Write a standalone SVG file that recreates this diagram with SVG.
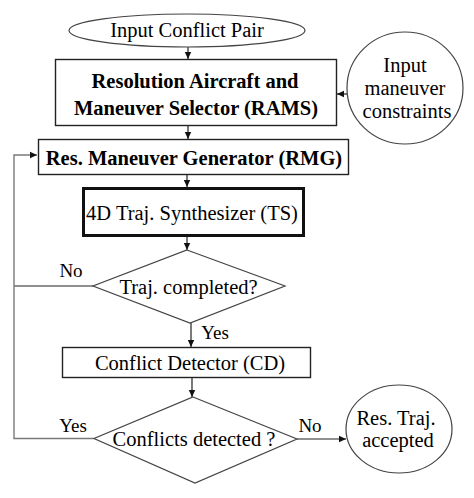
<svg xmlns="http://www.w3.org/2000/svg" width="474" height="498" viewBox="0 0 474 498">
<style>
text{font-family:'Liberation Serif','Times New Roman',serif;font-size:20.5px;fill:#000;text-anchor:middle}
.b{font-weight:bold}
.lbl{font-size:19px}
.box{fill:#fff;stroke:#222;stroke-width:1.4}
.thick{fill:#fff;stroke:#111;stroke-width:3}
.shape{fill:#fff;stroke:#444;stroke-width:1.2}
.ln{fill:none;stroke:#222;stroke-width:1.2}
.fb{fill:none;stroke:#7a7a7a;stroke-width:1.4}
</style>
<defs>
<marker id="ah" markerUnits="userSpaceOnUse" markerWidth="8" markerHeight="8" refX="7" refY="4" orient="auto">
<path d="M0,0.8 L7,4 L0,7.2 Z" fill="#111"/>
</marker>
</defs>
<rect width="474" height="498" fill="#fff"/>
<g id="connectors">
<line class="ln" x1="188" y1="47" x2="188" y2="59" marker-end="url(#ah)"/>
<line class="ln" x1="347" y1="94" x2="337" y2="94" marker-end="url(#ah)"/>
<line class="ln" x1="188" y1="126" x2="188" y2="139" marker-end="url(#ah)"/>
<line class="ln" x1="187" y1="175" x2="187" y2="187" marker-end="url(#ah)"/>
<line class="ln" x1="187" y1="237" x2="187" y2="250" marker-end="url(#ah)"/>
<line class="ln" x1="191" y1="323" x2="191" y2="347" marker-end="url(#ah)"/>
<line class="ln" x1="192" y1="378" x2="192" y2="397" marker-end="url(#ah)"/>
<line class="ln" x1="297" y1="439" x2="346" y2="439" marker-end="url(#ah)"/>
<line class="ln" x1="93" y1="286" x2="14" y2="286"/>
<polyline class="fb" points="94,438.5 14,438.5 14,155 37,155" marker-end="url(#ah)"/>
<text class="lbl" x="71" y="277">No</text>
<text class="lbl" x="215" y="339">Yes</text>
<text class="lbl" x="73" y="432">Yes</text>
<text class="lbl" x="310" y="432">No</text>
</g>
<g id="input-conflict-pair">
<ellipse class="shape" cx="187" cy="30.5" rx="118" ry="16.5"/>
<text x="187" y="37">Input Conflict Pair</text>
</g>
<g id="rams">
<rect class="box" x="55.5" y="59.5" width="281" height="66"/>
<text class="b" x="195" y="88">Resolution Aircraft and</text>
<text class="b" x="196" y="115">Maneuver Selector (RAMS)</text>
</g>
<g id="input-maneuver-constraints">
<ellipse class="shape" cx="405" cy="88" rx="58" ry="56"/>
<text x="405" y="72">Input</text>
<text x="405" y="95">maneuver</text>
<text x="407" y="118">constraints</text>
</g>
<g id="rmg">
<rect class="box" x="38.5" y="139.5" width="310" height="35"/>
<text class="b" x="194" y="165">Res. Maneuver Generator (RMG)</text>
</g>
<g id="ts">
<rect class="thick" x="83.5" y="188.5" width="220" height="47"/>
<text x="192" y="220">4D Traj. Synthesizer (TS)</text>
</g>
<g id="traj-completed">
<polygon class="shape" points="187,250 285,286 190,323 93,286"/>
<text x="188.5" y="294">Traj. completed?</text>
</g>
<g id="cd">
<rect class="box" x="62.5" y="347.5" width="248" height="30"/>
<text x="190" y="370">Conflict Detector (CD)</text>
</g>
<g id="conflicts-detected">
<polygon class="shape" points="193,397 297,439 195,483 94,438.5"/>
<text x="194" y="446">Conflicts detected ?</text>
</g>
<g id="res-traj-accepted">
<ellipse class="shape" cx="399" cy="429" rx="53" ry="44"/>
<text x="396" y="425">Res. Traj.</text>
<text x="398" y="447">accepted</text>
</g>
</svg>
